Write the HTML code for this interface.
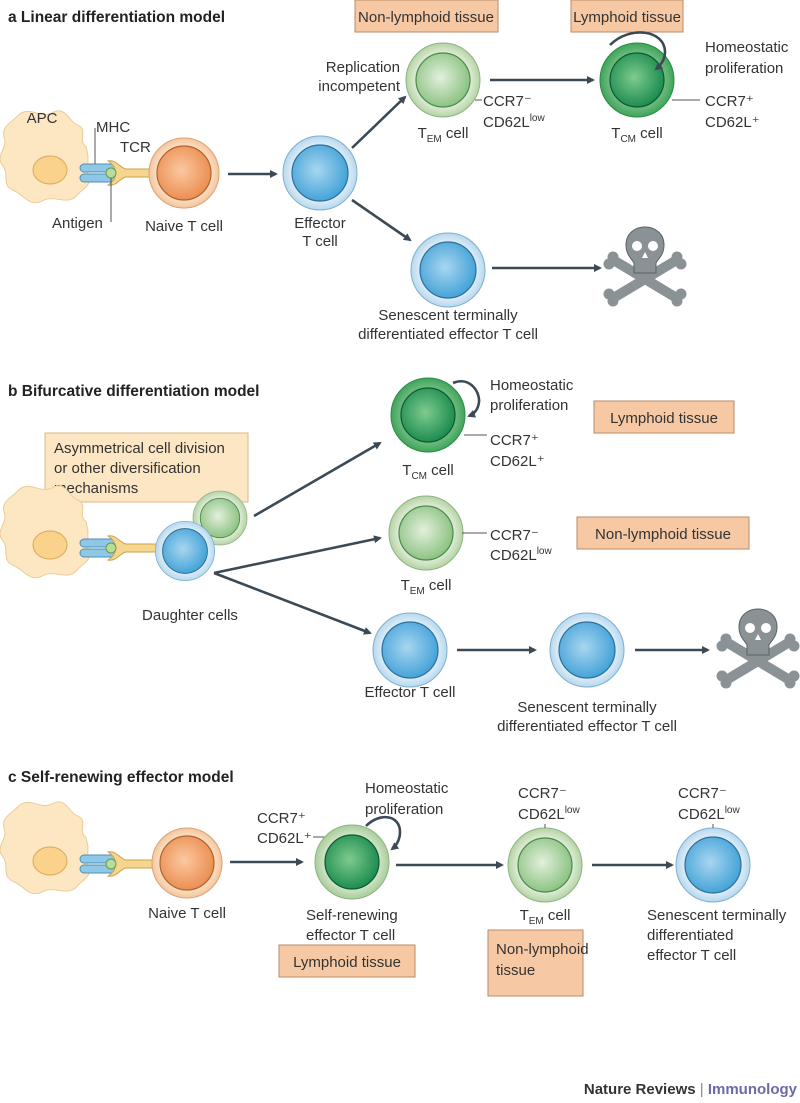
<!DOCTYPE html>
<html><head><meta charset="utf-8"><style>
html,body{margin:0;padding:0;background:#fff;}
svg{display:block;font-family:"Liberation Sans","DejaVu Sans",sans-serif;}
text{fill:#333;font-size:15px;}
.t{font-weight:bold;font-size:15.5px;fill:#222;}
.m{text-anchor:middle;}
.box{fill:#f6c9a4;stroke:#b98a66;stroke-width:1;}
.ln{stroke:#3c4a55;stroke-width:2.6;fill:none;}
.thin{stroke:#555;stroke-width:1;}
</style></head><body>
<svg width="800" height="1103" viewBox="0 0 800 1103" xmlns="http://www.w3.org/2000/svg">
<defs>
<marker id="ah" markerWidth="8" markerHeight="8" refX="6" refY="4" orient="auto" markerUnits="userSpaceOnUse" viewBox="0 0 8 8"><path d="M0,0 L8,4 L0,8 z" fill="#3c4a55"/></marker>
<radialGradient id="gBlueO" cx="50%" cy="50%" r="50%"><stop offset="70%" stop-color="#e6f2fa"/><stop offset="100%" stop-color="#b8d8ee"/></radialGradient>
<radialGradient id="gBlueI" cx="45%" cy="45%" r="60%"><stop offset="0%" stop-color="#a8d6f0"/><stop offset="100%" stop-color="#3d9fd6"/></radialGradient>
<radialGradient id="gGrO" cx="50%" cy="50%" r="50%"><stop offset="70%" stop-color="#e4f0dc"/><stop offset="100%" stop-color="#b5d3a6"/></radialGradient>
<radialGradient id="gGrI" cx="45%" cy="45%" r="60%"><stop offset="0%" stop-color="#e2f0dc"/><stop offset="100%" stop-color="#86bf7c"/></radialGradient>
<radialGradient id="gDGO" cx="50%" cy="50%" r="50%"><stop offset="30%" stop-color="#bfe0bf"/><stop offset="100%" stop-color="#3fa55a"/></radialGradient>
<radialGradient id="gDGI" cx="45%" cy="45%" r="60%"><stop offset="0%" stop-color="#7fcb8f"/><stop offset="100%" stop-color="#15874a"/></radialGradient>
<radialGradient id="gSRO" cx="50%" cy="50%" r="50%"><stop offset="60%" stop-color="#e4f0dc"/><stop offset="100%" stop-color="#a8cd9c"/></radialGradient>
<radialGradient id="gOrO" cx="50%" cy="50%" r="50%"><stop offset="70%" stop-color="#fde6cf"/><stop offset="100%" stop-color="#f4c69c"/></radialGradient>
<radialGradient id="gOrI" cx="45%" cy="45%" r="60%"><stop offset="0%" stop-color="#fbc8a0"/><stop offset="100%" stop-color="#ea8a4c"/></radialGradient>
<g id="blue"><circle r="37" fill="url(#gBlueO)" stroke="#7fb0d0" stroke-width="1"/><circle r="28" fill="url(#gBlueI)" stroke="#2f6f99" stroke-width="1.2"/></g>
<g id="green"><circle r="37" fill="url(#gGrO)" stroke="#8bb57f" stroke-width="1"/><circle r="27" fill="url(#gGrI)" stroke="#4a8a4a" stroke-width="1.2"/></g>
<g id="dgreen"><circle r="37" fill="url(#gDGO)" stroke="#2c8a48" stroke-width="1"/><circle r="27" fill="url(#gDGI)" stroke="#0c5a30" stroke-width="1.2"/></g>
<g id="sr"><circle r="37" fill="url(#gSRO)" stroke="#8bb57f" stroke-width="1"/><circle r="27" fill="url(#gDGI)" stroke="#0c5a30" stroke-width="1.2"/></g>
<g id="orange"><circle r="35" fill="url(#gOrO)" stroke="#d9a37a" stroke-width="1"/><circle r="27" fill="url(#gOrI)" stroke="#b0632f" stroke-width="1.2"/></g>
<g id="apc">
<g transform="translate(48,-18) scale(0.95,0.85)">
<path d="M-30,-48 C-18,-58 -8,-42 5,-50 C18,-58 22,-40 30,-36 C44,-30 30,-18 40,-10 L42,0 L42,25 C48,34 36,40 30,48 C20,60 6,46 -6,54 C-20,62 -26,46 -36,42 C-50,36 -40,22 -48,12 C-56,0 -42,-8 -46,-20 C-50,-34 -38,-38 -30,-48 z" fill="#fde7c2" stroke="#e8c992" stroke-width="1"/>
</g>
<ellipse cx="50" cy="-3" rx="17" ry="14" fill="#fbd28c" stroke="#d9a85a" stroke-width="1"/>
<rect x="80" y="-9" width="36" height="8" rx="4" fill="#8fc7e6" stroke="#4e8fb3"/>
<rect x="80" y="1" width="36" height="8" rx="4" fill="#8fc7e6" stroke="#4e8fb3"/>
<path d="M108,-12 C116,-14 120,-5 126,-4 L158,-4 L158,4 L126,4 C120,5 116,14 108,12 C118,6 118,-6 108,-12z" fill="#f6d68f" stroke="#c9a24a"/>
<ellipse cx="111" cy="0" rx="5" ry="5" fill="#b8dc9c" stroke="#6a9a4a"/>
</g>
<g id="skull">
<path d="M-30,-4 L30,32 M-30,32 L30,-4" stroke="#8a9296" stroke-width="10" stroke-linecap="round"/>
<circle cx="-32" cy="-8" r="5.5" fill="#8a9296"/><circle cx="-36" cy="-1" r="5.5" fill="#8a9296"/>
<circle cx="32" cy="-8" r="5.5" fill="#8a9296"/><circle cx="36" cy="-1" r="5.5" fill="#8a9296"/>
<circle cx="-32" cy="36" r="5.5" fill="#8a9296"/><circle cx="-36" cy="29" r="5.5" fill="#8a9296"/>
<circle cx="32" cy="36" r="5.5" fill="#8a9296"/><circle cx="36" cy="29" r="5.5" fill="#8a9296"/>
<path d="M-19,-20 C-19,-44 19,-44 19,-20 C19,-10 13,-6 11,-2 L11,8 L-11,8 L-11,-2 C-13,-6 -19,-10 -19,-20z" fill="#8a9296" stroke="#5a6266"/>
<circle cx="-8" cy="-19" r="5" fill="#fff"/><circle cx="8" cy="-19" r="5" fill="#fff"/>
<path d="M0,-13 L-3,-7 L3,-7z" fill="#fff"/>
</g>
</defs>

<!-- Panel a -->
<text x="8" y="22" class="t">a  Linear differentiation model</text>
<rect x="355" y="0" width="143" height="32" class="box"/><text x="426" y="22" class="m">Non-lymphoid tissue</text>
<rect x="571" y="0" width="112" height="32" class="box"/><text x="627" y="22" class="m">Lymphoid tissue</text>
<use href="#apc" x="0" y="173"/>
<text x="42" y="123" class="m">APC</text>
<text x="96" y="132">MHC</text><line x1="95" y1="128" x2="95" y2="164" class="thin"/>
<text x="120" y="152">TCR</text>
<text x="52" y="228">Antigen</text><line x1="111" y1="178" x2="111" y2="222" class="thin"/>
<use href="#orange" x="184" y="173"/>
<text x="184" y="231" class="m">Naive T cell</text>
<line x1="228" y1="174" x2="276" y2="174" class="ln" marker-end="url(#ah)"/>
<use href="#blue" x="320" y="173"/>
<text x="320" y="228" class="m">Effector</text><text x="320" y="246" class="m">T cell</text>
<line x1="352" y1="148" x2="405" y2="97" class="ln" marker-end="url(#ah)"/>
<line x1="352" y1="200" x2="410" y2="240" class="ln" marker-end="url(#ah)"/>
<text x="400" y="72" style="text-anchor:end">Replication</text><text x="400" y="91" style="text-anchor:end">incompetent</text>
<use href="#green" x="443" y="80"/>
<line x1="475" y1="100" x2="482" y2="100" class="thin"/>
<text x="483" y="106">CCR7⁻</text><text x="483" y="127">CD62L<tspan font-size="10" dy="-6">low</tspan></text>
<text x="443" y="138" class="m">T<tspan font-size="10" dy="4">EM</tspan><tspan dy="-4"> cell</tspan></text>
<line x1="490" y1="80" x2="593" y2="80" class="ln" marker-end="url(#ah)"/>
<use href="#dgreen" x="637" y="80"/>
<path d="M610,45 C630,25 665,30 665,52 C665,60 660,66 656,69" class="ln" marker-end="url(#ah)"/>
<text x="705" y="52">Homeostatic</text><text x="705" y="73">proliferation</text>
<line x1="672" y1="100" x2="700" y2="100" class="thin"/>
<text x="705" y="106">CCR7⁺</text><text x="705" y="127">CD62L⁺</text>
<text x="637" y="138" class="m">T<tspan font-size="10" dy="4">CM</tspan><tspan dy="-4"> cell</tspan></text>
<use href="#blue" x="448" y="270"/>
<text x="448" y="320" class="m">Senescent terminally</text><text x="448" y="339" class="m">differentiated effector T cell</text>
<line x1="492" y1="268" x2="600" y2="268" class="ln" marker-end="url(#ah)"/>
<use href="#skull" x="645" y="265"/>

<!-- Panel b -->
<text x="8" y="396" class="t">b  Bifurcative differentiation model</text>
<use href="#dgreen" x="428" y="415"/>
<path d="M453,383 C470,376 480,392 479,402 C478,410 474,414 469,416" class="ln" marker-end="url(#ah)"/>
<text x="490" y="390">Homeostatic</text><text x="490" y="410">proliferation</text>
<line x1="464" y1="435" x2="487" y2="435" class="thin"/>
<text x="490" y="445">CCR7⁺</text><text x="490" y="466">CD62L⁺</text>
<text x="428" y="475" class="m">T<tspan font-size="10" dy="4">CM</tspan><tspan dy="-4"> cell</tspan></text>
<rect x="594" y="401" width="140" height="32" class="box"/><text x="664" y="423" class="m">Lymphoid tissue</text>
<rect x="45" y="433" width="203" height="69" fill="#fde6c4" stroke="#d8b88a"/>
<text x="54" y="453">Asymmetrical cell division</text><text x="54" y="473">or other diversification</text><text x="54" y="493">mechanisms</text>
<use href="#apc" x="0" y="548"/>
<g transform="translate(220,518) scale(0.73)"><use href="#green"/></g>
<g transform="translate(185,551) scale(0.8)"><use href="#blue"/></g>
<text x="190" y="620" class="m">Daughter cells</text>
<line x1="254" y1="516" x2="380" y2="443" class="ln" marker-end="url(#ah)"/>
<line x1="214" y1="573" x2="380" y2="538" class="ln" marker-end="url(#ah)"/>
<line x1="214" y1="573" x2="370" y2="633" class="ln" marker-end="url(#ah)"/>
<use href="#green" x="426" y="533"/>
<line x1="462" y1="533" x2="487" y2="533" class="thin"/>
<text x="490" y="540">CCR7⁻</text><text x="490" y="560">CD62L<tspan font-size="10" dy="-6">low</tspan></text>
<text x="426" y="590" class="m">T<tspan font-size="10" dy="4">EM</tspan><tspan dy="-4"> cell</tspan></text>
<rect x="577" y="517" width="172" height="32" class="box"/><text x="663" y="539" class="m">Non-lymphoid tissue</text>
<use href="#blue" x="410" y="650"/>
<text x="410" y="697" class="m">Effector T cell</text>
<line x1="457" y1="650" x2="535" y2="650" class="ln" marker-end="url(#ah)"/>
<use href="#blue" x="587" y="650"/>
<text x="587" y="712" class="m">Senescent terminally</text><text x="587" y="731" class="m">differentiated effector T cell</text>
<line x1="635" y1="650" x2="708" y2="650" class="ln" marker-end="url(#ah)"/>
<use href="#skull" x="758" y="647"/>

<!-- Panel c -->
<text x="8" y="782" class="t">c  Self-renewing effector model</text>
<use href="#apc" x="0" y="864"/>
<use href="#orange" x="187" y="863"/>
<text x="187" y="918" class="m">Naive T cell</text>
<line x1="230" y1="862" x2="302" y2="862" class="ln" marker-end="url(#ah)"/>
<text x="257" y="823">CCR7⁺</text><text x="257" y="843">CD62L⁺</text>
<line x1="313" y1="837" x2="325" y2="837" class="thin"/>
<use href="#sr" x="352" y="862"/>
<path d="M366,826 C380,812 400,815 400,832 C400,840 396,846 392,849" class="ln" marker-end="url(#ah)"/>
<text x="365" y="793">Homeostatic</text><text x="365" y="814">proliferation</text>
<text x="306" y="920">Self-renewing</text><text x="306" y="940">effector T cell</text>
<text x="306" y="960">or T<tspan font-size="10" dy="4">CM</tspan><tspan dy="-4"> cell</tspan></text>
<rect x="279" y="945" width="136" height="32" class="box"/><text x="347" y="967" class="m">Lymphoid tissue</text>
<line x1="396" y1="865" x2="502" y2="865" class="ln" marker-end="url(#ah)"/>
<use href="#green" x="545" y="865"/>
<text x="518" y="798">CCR7⁻</text><text x="518" y="819">CD62L<tspan font-size="10" dy="-6">low</tspan></text>
<line x1="545" y1="824" x2="545" y2="828" class="thin"/>
<text x="545" y="920" class="m">T<tspan font-size="10" dy="4">EM</tspan><tspan dy="-4"> cell</tspan></text>
<rect x="488" y="930" width="95" height="66" class="box"/><text x="496" y="954">Non-lymphoid</text><text x="496" y="975">tissue</text>
<line x1="592" y1="865" x2="672" y2="865" class="ln" marker-end="url(#ah)"/>
<use href="#blue" x="713" y="865"/>
<text x="678" y="798">CCR7⁻</text><text x="678" y="819">CD62L<tspan font-size="10" dy="-6">low</tspan></text>
<line x1="713" y1="824" x2="713" y2="828" class="thin"/>
<text x="647" y="920">Senescent terminally</text><text x="647" y="940">differentiated</text><text x="647" y="960">effector T cell</text>

<text x="797" y="1094" style="text-anchor:end;font-size:15px;font-weight:bold;fill:#333">Nature Reviews <tspan font-weight="normal" fill="#888">|</tspan> <tspan fill="#6a6aa8">Immunology</tspan></text>
</svg>
</body></html>
